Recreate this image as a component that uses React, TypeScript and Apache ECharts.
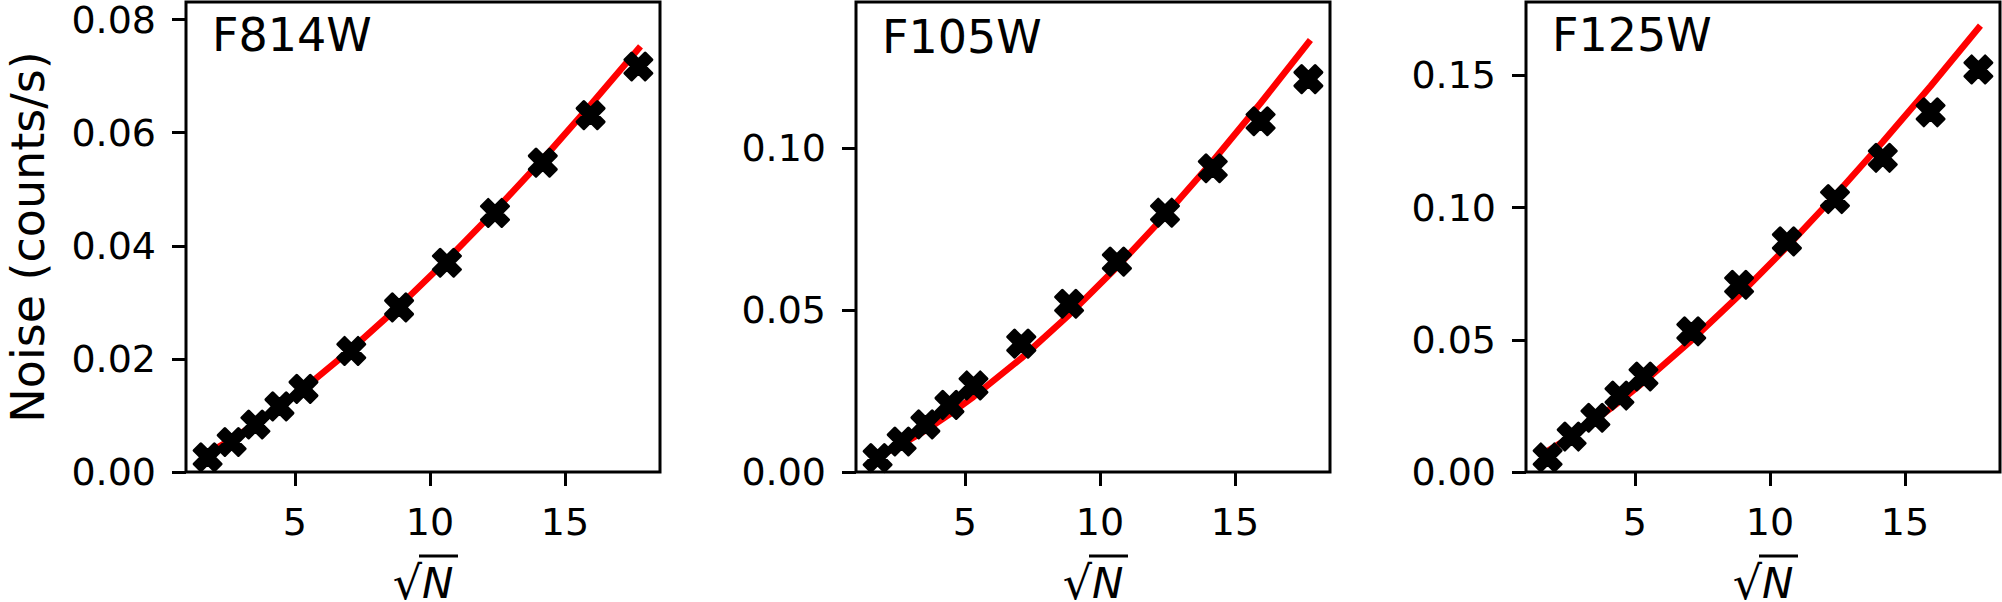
import React, { useEffect, useRef } from "react";
import * as echarts from "echarts";

// sqrt(N) positions of the apertures
const X_VALUES = [1.77, 2.66, 3.54, 4.43, 5.32, 7.09, 8.86, 10.63, 12.41, 14.18, 15.95, 17.72];

// measured noise (black crosses)
const F814W_POINTS = [0.0026, 0.0053, 0.0084, 0.0116, 0.0147, 0.0214, 0.0291, 0.037, 0.0458, 0.0547, 0.0631, 0.0717];
const F105W_POINTS = [0.0043, 0.0094, 0.0147, 0.0207, 0.0267, 0.0396, 0.0519, 0.0649, 0.08, 0.0937, 0.1082, 0.1212];
const F125W_POINTS = [0.0055, 0.0134, 0.0205, 0.0289, 0.0361, 0.0532, 0.0708, 0.0872, 0.1032, 0.1188, 0.136, 0.1522];

// fitted relation (red curve)
const F814W_FIT = [0.0033, 0.0058, 0.0085, 0.0115, 0.0147, 0.0217, 0.0293, 0.0375, 0.0462, 0.0553, 0.0649, 0.0748];
const F105W_FIT = [0.0047, 0.0085, 0.0128, 0.0178, 0.0232, 0.0351, 0.0485, 0.0632, 0.0791, 0.0959, 0.1138, 0.1325];
const F125W_FIT = [0.0079, 0.0135, 0.0197, 0.0266, 0.0339, 0.0497, 0.0668, 0.0851, 0.1045, 0.1248, 0.1459, 0.1678];

const PANEL_NAMES = ["F814W", "F105W", "F125W"];
const X_TICKS = [5, 10, 15];
const Y_TICKS_F814W = [0, 0.02, 0.04, 0.06, 0.08];
const Y_TICKS_F105W = [0, 0.05, 0.1];
const Y_TICKS_F125W = [0, 0.05, 0.1, 0.15];
const Y_MAX = [0.0831, 0.145, 0.1777];
const X_MIN = 0.97;
const X_MAX = 18.52;
const Y_LABEL = "Noise (counts/s)";
const X_LABEL_RICH = "{r|√}{n|N}";

const POINTS = [F814W_POINTS, F105W_POINTS, F125W_POINTS];
const FITS = [F814W_FIT, F105W_FIT, F125W_FIT];
const Y_TICKS = [Y_TICKS_F814W, Y_TICKS_F105W, Y_TICKS_F125W];

// layout
const FONT = '"DejaVu Sans", Verdana, sans-serif';
const GRID_LEFT = [186, 856, 1526];
const GRID_TOP = 2;
const GRID_W = 474;
const GRID_H = 470;
const TITLE_TOP = [12, 14, 12];

const X_MARKER = "path://M-1,-2L0,-1L1,-2L2,-1L1,0L2,1L1,2L0,1L-1,2L-2,1L-1,0L-2,-1Z";

export default function App() {
  const ref = useRef<HTMLDivElement>(null);

  useEffect(() => {
    if (!ref.current) return;
    const chart = echarts.init(ref.current, null, { renderer: "svg" });

    const grids = GRID_LEFT.map((left) => ({
      left,
      top: GRID_TOP,
      width: GRID_W,
      height: GRID_H,
      show: true,
      borderColor: "#000",
      borderWidth: 3,
      backgroundColor: "rgba(0,0,0,0)",
      containLabel: false,
      outerBoundsMode: "none",
    }));

    const xAxes = GRID_LEFT.map((_, i) => ({
      gridIndex: i,
      type: "value",
      min: X_MIN,
      max: X_MAX,
      axisLine: { show: false },
      splitLine: { show: false },
      axisTick: {
        show: true,
        length: 14,
        customValues: X_TICKS,
        lineStyle: { color: "#000", width: 3 },
      },
      axisLabel: {
        customValues: X_TICKS,
        fontSize: 38,
        fontFamily: FONT,
        color: "#000",
        margin: 31,
        hideOverlap: false,
      },
    }));

    const yAxes = GRID_LEFT.map((_, i) => ({
      gridIndex: i,
      type: "value",
      min: 0,
      max: Y_MAX[i],
      axisLine: { show: false },
      splitLine: { show: false },
      axisTick: {
        show: true,
        length: 14,
        customValues: Y_TICKS[i],
        lineStyle: { color: "#000", width: 3 },
      },
      axisLabel: {
        customValues: Y_TICKS[i],
        formatter: (v: number) => v.toFixed(2),
        fontSize: 38,
        fontFamily: FONT,
        color: "#000",
        margin: 30,
        lineHeight: 20,
        padding: [12, 0, 0, 0],
      },
      ...(i === 0
        ? {
            name: Y_LABEL,
            nameLocation: "middle",
            nameGap: 138,
            nameRotate: 90,
            nameTextStyle: { fontSize: 46, lineHeight: 40, fontFamily: FONT, color: "#000" },
          }
        : {}),
    }));

    const series: any[] = [];
    GRID_LEFT.forEach((_, i) => {
      series.push({
        type: "line",
        xAxisIndex: i,
        yAxisIndex: i,
        data: X_VALUES.map((x, j) => [x, FITS[i][j]]),
        symbol: "none",
        showSymbol: false,
        lineStyle: { color: "#ff0000", width: 6.5, cap: "square" },
        z: 2,
      });
      series.push({
        type: "scatter",
        xAxisIndex: i,
        yAxisIndex: i,
        data: X_VALUES.map((x, j) => [x, POINTS[i][j]]),
        symbol: X_MARKER,
        symbolSize: 27,
        itemStyle: { color: "#000", borderColor: "#000", borderWidth: 3, borderJoin: "round", opacity: 1 },
        z: 3,
      });
    });

    const graphic: any[] = [];
    GRID_LEFT.forEach((left, i) => {
      graphic.push({
        type: "text",
        left: left + 26,
        top: TITLE_TOP[i],
        z: 10,
        style: { text: PANEL_NAMES[i], font: `46px ${FONT}`, fill: "#000" },
      });
      const cx = left + GRID_W / 2;
      graphic.push({
        type: "text",
        x: cx,
        y: 568,
        z: 10,
        style: {
          text: X_LABEL_RICH,
          align: "center",
          verticalAlign: "top",
          rich: {
            r: { fontSize: 46, fontFamily: FONT, fill: "#000", lineHeight: 30 },
            n: { fontSize: 42, fontFamily: FONT, fontStyle: "italic", fill: "#000", lineHeight: 30 },
          },
        },
      });
      graphic.push({
        type: "line",
        z: 10,
        shape: { x1: cx - 4, y1: 556, x2: cx + 35, y2: 556 },
        style: { stroke: "#000", lineWidth: 3 },
      });
    });

    chart.setOption({
      animation: false,
      backgroundColor: "#fff",
      grid: grids,
      xAxis: xAxes,
      yAxis: yAxes,
      series,
      graphic,
    });

    return () => chart.dispose();
  }, []);

  return (
    <div
      ref={ref}
      style={{ position: "absolute", left: 0, top: 0, width: 2002, height: 602 }}
    />
  );
}
